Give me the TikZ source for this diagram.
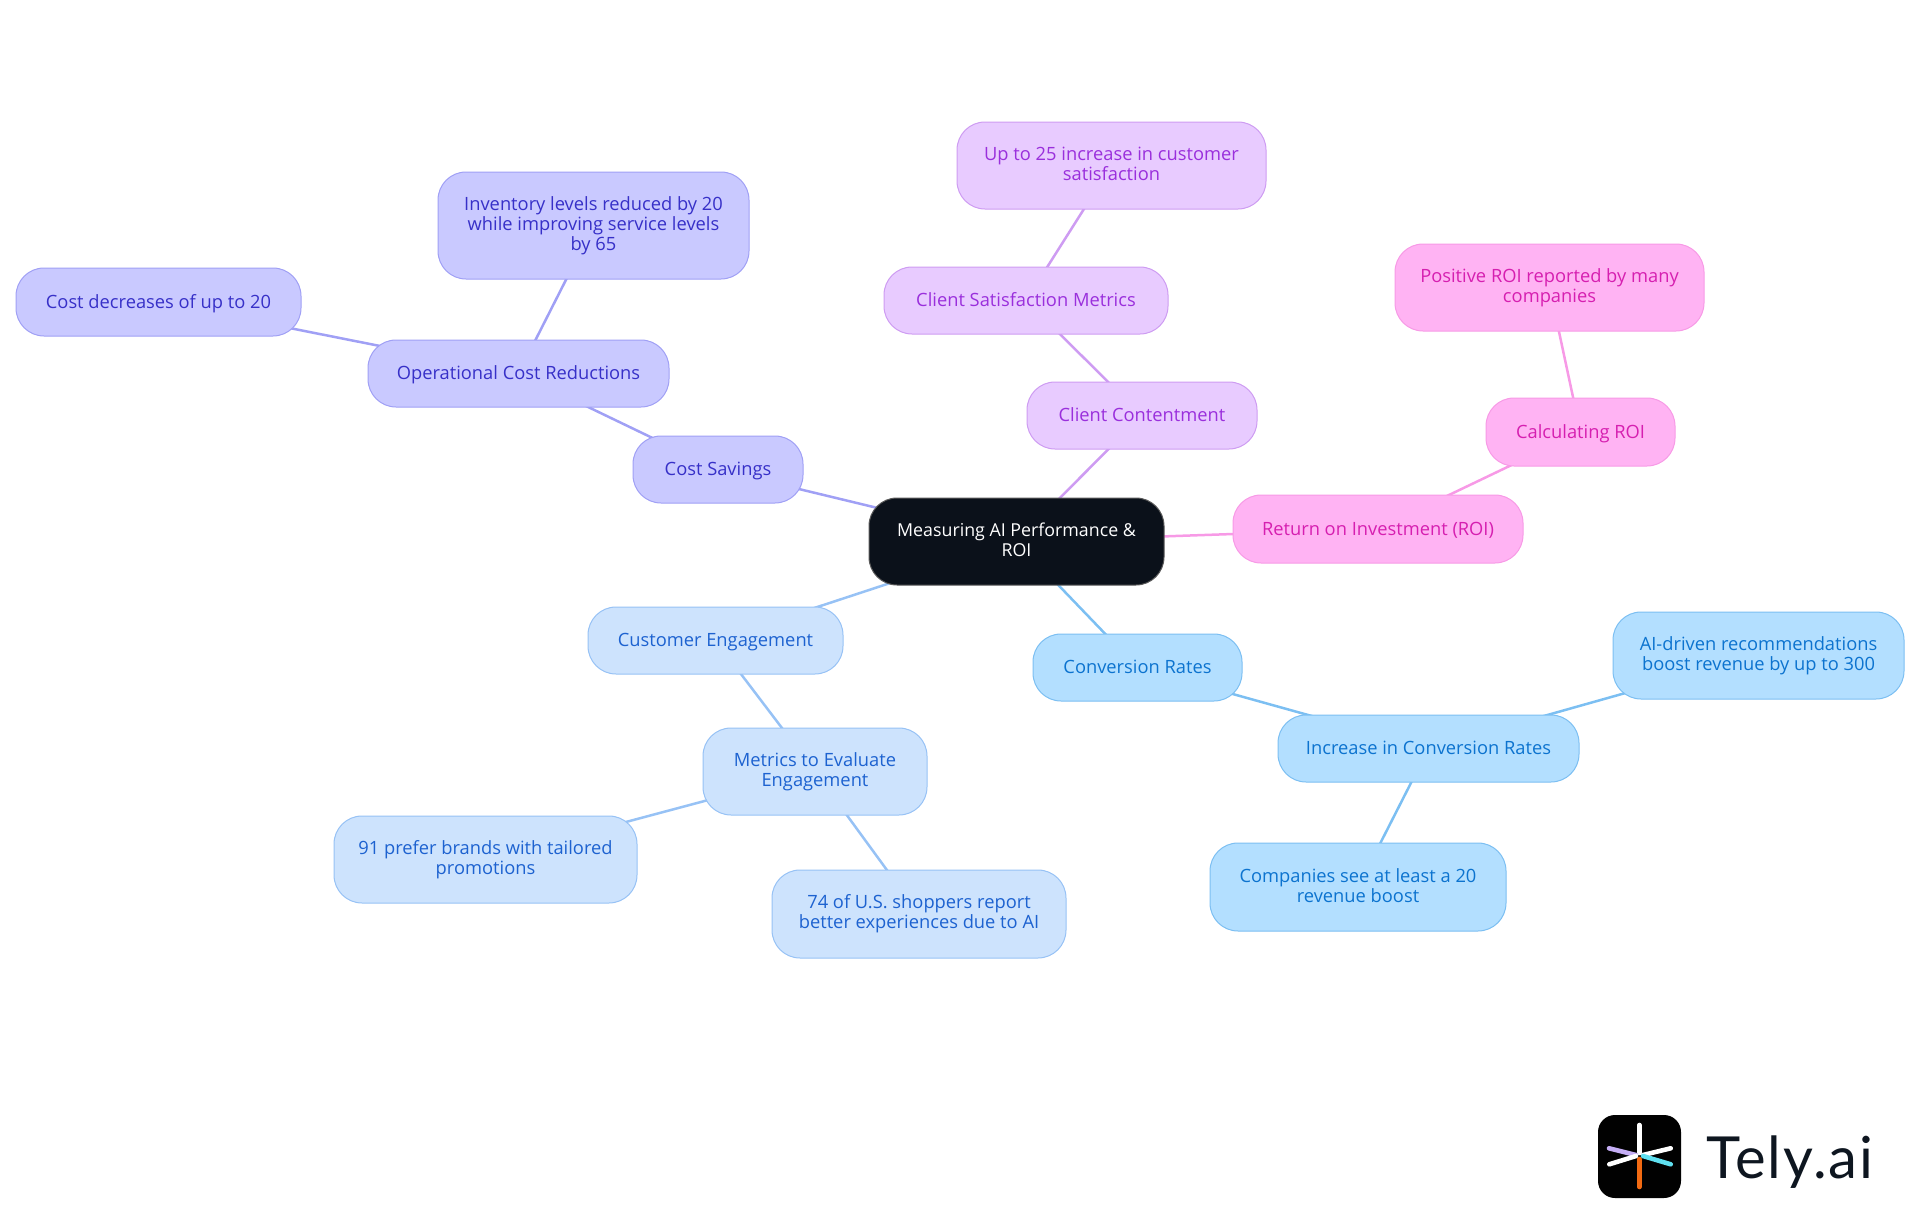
\documentclass[tikz,border=0pt]{standalone}
\usepackage{fontspec}
\setmainfont{Open Sans}
\newfontfamily\logofont[LetterSpace=3.3]{Lato}
\usetikzlibrary{backgrounds}
\newcommand{\boxstrut}{\rule[-3.6pt]{0pt}{20pt}}
\definecolor{inF}{HTML}{C9C9FF}\definecolor{inS}{HTML}{A0A0F5}\definecolor{inT}{HTML}{3730C8}
\definecolor{puF}{HTML}{E8CBFF}\definecolor{puS}{HTML}{CE9CF2}\definecolor{puT}{HTML}{9A2FDC}
\definecolor{piF}{HTML}{FFB3F3}\definecolor{piS}{HTML}{F79AE6}\definecolor{piT}{HTML}{D61FB0}
\definecolor{ltF}{HTML}{CDE3FD}\definecolor{ltS}{HTML}{97C2F5}\definecolor{ltT}{HTML}{1D62D0}
\definecolor{skF}{HTML}{B3DFFF}\definecolor{skS}{HTML}{7CBFF2}\definecolor{skT}{HTML}{0C73CF}
\definecolor{darkbg}{HTML}{0B111A}
\definecolor{logoink}{HTML}{0E1620}
\definecolor{logolav}{HTML}{C5AEF5}\definecolor{logocy}{HTML}{5FE0F0}\definecolor{logoor}{HTML}{F26A12}
\tikzset{
  x=1pt,y=-1pt,
  box/.style={rectangle,rounded corners=28pt,align=center,inner sep=0pt,outer sep=0pt,line width=1pt,
    font=\fontsize{18.3}{20}\selectfont,execute at begin node=\boxstrut,execute at end node=\boxstrut},
  inbox/.style={box,fill=inF,draw=inS,text=inT},
  pubox/.style={box,fill=puF,draw=puS,text=puT},
  pibox/.style={box,fill=piF,draw=piS,text=piT},
  ltbox/.style={box,fill=ltF,draw=ltS,text=ltT},
  skbox/.style={box,fill=skF,draw=skS,text=skT},
  rootbox/.style={box,fill=darkbg,draw=gray!70!black,text=white,font=\fontsize{17.8}{20}\selectfont},
  link/.style={line width=2.5pt},
  spoke/.style={line width=4.6pt,line cap=round},
}
\begin{document}
\begin{tikzpicture}
\useasboundingbox (0,0) rectangle (1920,1215);
\node[rootbox,minimum width=295pt,minimum height=87pt] (root) at (1016.5,541.5) {Measuring AI Performance \&\\ROI};
% indigo
\node[inbox,minimum width=170pt,minimum height=67pt] (cs) at (718,469.5) {Cost Savings};
\node[inbox,minimum width=301pt,minimum height=67pt] (op) at (518.5,373.5) {Operational Cost Reductions};
\node[inbox,minimum width=285pt,minimum height=68pt] (cd) at (158.5,302) {Cost decreases of up to 20};
\node[inbox,minimum width=311pt,minimum height=107pt] (inv) at (593.5,225.5) {Inventory levels reduced by 20\\while improving service levels\\by 65};
% purple
\node[pubox,minimum width=230pt,minimum height=67pt] (cc) at (1142,415.5) {Client Contentment};
\node[pubox,minimum width=284pt,minimum height=67pt] (sat) at (1026,300.5) {Client Satisfaction Metrics};
\node[pubox,minimum width=309pt,minimum height=87pt] (up) at (1111.5,165.5) {Up to 25 increase in customer\\satisfaction};
% pink
\node[pibox,minimum width=290pt,minimum height=68pt] (roi) at (1378,529) {Return on Investment (ROI)};
\node[pibox,minimum width=189pt,minimum height=68pt] (calc) at (1580.5,432) {Calculating ROI};
\node[pibox,minimum width=309pt,minimum height=87pt] (pos) at (1549.5,287.5) {Positive ROI reported by many\\companies};
% light blue
\node[ltbox,minimum width=255pt,minimum height=67pt] (ce) at (715.5,640.5) {Customer Engagement};
\node[ltbox,minimum width=224pt,minimum height=87pt] (me) at (815,771.5) {Metrics to Evaluate\\Engagement};
\node[ltbox,minimum width=303pt,minimum height=87pt] (pr) at (485.5,859.5) {91 prefer brands with tailored\\promotions};
\node[ltbox,minimum width=294pt,minimum height=88pt] (sh) at (919,914) {74 of U.S. shoppers report\\better experiences due to AI};
% sky
\node[skbox,minimum width=209pt,minimum height=67pt] (cr) at (1137.5,667.5) {Conversion Rates};
\node[skbox,minimum width=301pt,minimum height=67pt] (ic) at (1428.5,748.5) {Increase in Conversion Rates};
\node[skbox,minimum width=291pt,minimum height=87pt] (ai) at (1758.5,655.5) {AI-driven recommendations\\boost revenue by up to 300};
\node[skbox,minimum width=296pt,minimum height=88pt] (co) at (1358,887) {Companies see at least a 20\\revenue boost};
\begin{scope}[on background layer]
\draw[link,inS] (root.center) -- (cs.center);
\draw[link,inS] (cs.center) -- (op.center);
\draw[link,inS] (op.center) -- (cd.center);
\draw[link,inS] (op.center) -- (inv.center);
\draw[link,puS] (root.center) -- (cc.center);
\draw[link,puS] (cc.center) -- (sat.center);
\draw[link,puS] (sat.center) -- (up.center);
\draw[link,piS] (root.center) -- (roi.center);
\draw[link,piS] (roi.center) -- (calc.center);
\draw[link,piS] (calc.center) -- (pos.center);
\draw[link,ltS] (root.center) -- (ce.center);
\draw[link,ltS] (ce.center) -- (me.center);
\draw[link,ltS] (me.center) -- (pr.center);
\draw[link,ltS] (me.center) -- (sh.center);
\draw[link,skS] (root.center) -- (cr.center);
\draw[link,skS] (cr.center) -- (ic.center);
\draw[link,skS] (ic.center) -- (ai.center);
\draw[link,skS] (ic.center) -- (co.center);
\end{scope}
% logo
\fill[black!95!darkbg,rounded corners=17pt] (1598,1115) rectangle (1681,1198);
\draw[spoke,white] (1639.3,1125) -- (1639.3,1153);
\draw[spoke,logoor] (1639.3,1159) -- (1639.3,1187);
\draw[spoke,logolav] (1609,1148.3) -- (1636,1155);
\draw[spoke,white] (1609.3,1164.3) -- (1636,1156);
\draw[spoke,white] (1670.7,1148.3) -- (1643,1155);
\draw[spoke,logocy] (1670.7,1164.3) -- (1643,1156);
\node[inner sep=0pt,anchor=base west,text=logoink,font=\logofont\fontsize{58}{60}\selectfont] (logotext) at (1706,1178) {Tely.ai};
\end{tikzpicture}
\end{document}
